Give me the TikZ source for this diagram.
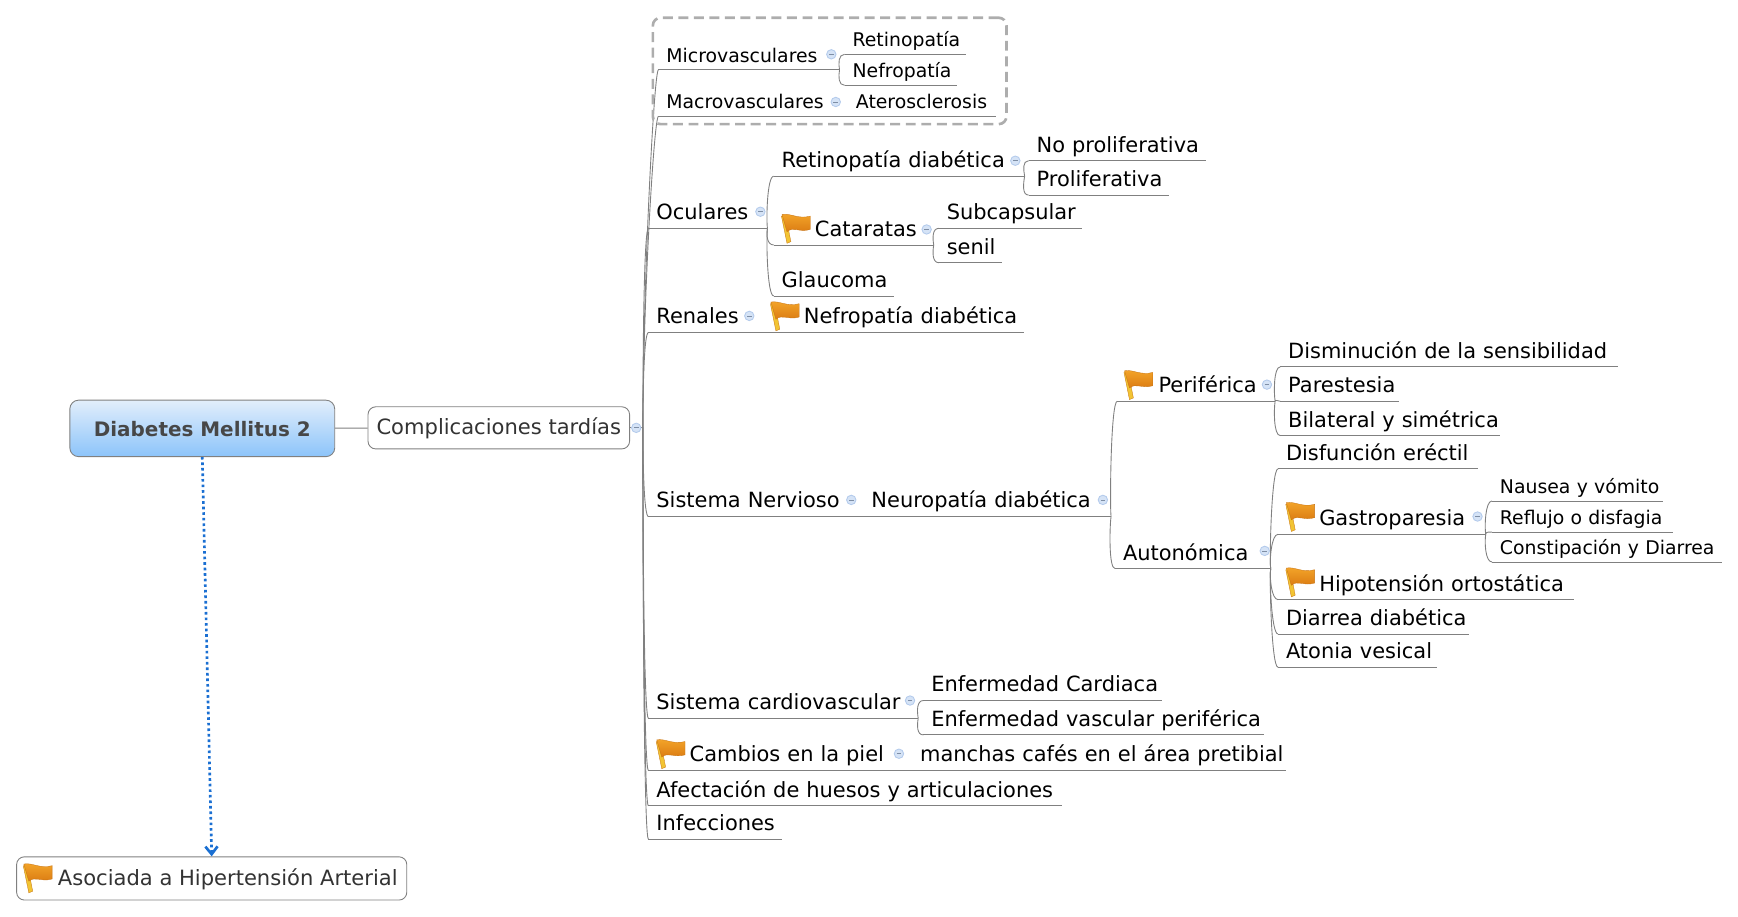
\documentclass[tikz,border=0pt]{standalone}
\usepackage{fontspec}
\setmainfont{DejaVu Sans}
\usetikzlibrary{arrows.meta}
\definecolor{linegray}{HTML}{808080}
\definecolor{flagtop}{HTML}{F4A62A}
\definecolor{flagbottom}{HTML}{DA7A12}
\definecolor{flagdark}{HTML}{C87414}
\definecolor{flagpole}{HTML}{F2C433}
\definecolor{linkblue}{HTML}{1A6FD2}
\definecolor{rootlight}{HTML}{E2EEFB}
\definecolor{rootdark}{HTML}{8CC4FA}
\definecolor{foldfill}{HTML}{D5E3F6}
\definecolor{folddraw}{HTML}{B4CBEC}
\tikzset{
    branch/.style={draw=linegray,line width=0.8pt},
    topic/.style={anchor=south west,inner xsep=7pt,inner ysep=0pt,align=left,text height=14pt,text depth=7.5pt,font=\fontsize{18.9}{21}\selectfont,text=black,
        execute at begin node={\hbox\bgroup},execute at end node={\egroup},
        append after command={(\tikzlastnode.south west) edge[branch] (\tikzlastnode.south east)}},
    midtopic/.style={topic,font=\fontsize{17}{20}\selectfont,text depth=6.5pt},
    fanup/.style={out=100,in=180,in max distance=6pt,out max distance=7pt},
    fandown/.style={out=-100,in=180,in max distance=6pt,out max distance=7pt},
    trunkup/.style={out=90,in=180,in max distance=4pt},
    trunkdown/.style={out=-90,in=180,in max distance=4pt},
    boxed/.style={draw=linegray,line width=0.8pt,rounded corners=7pt,fill=white,text=black!80,font=\fontsize{19}{21}\selectfont,inner sep=0pt,text height=15pt,text depth=2.5pt},
    fold/.style={circle,draw=folddraw,line width=0.8pt,fill=foldfill,minimum size=8.5pt,inner sep=0pt,
        path picture={\draw[folddraw!70!black,line width=0.7pt] (path picture bounding box.west) ++(2.2pt,0) -- ++(4.1pt,0);}},
    flagicon/.pic={
        \fill[flagpole,draw=flagdark,line width=0.3pt] (-13,-11) -- (-9,-11) -- (-4.5,12) -- (-8,13.5) -- cycle;
        \shade[top color=flagtop,bottom color=flagbottom,draw=flagdark,line width=0.3pt] (-12.5,-12.5) .. controls (-5,-14) and (2,-8) .. (13,-11) -- (13,1) .. controls (3,4) and (-2,-2) .. (-8,3) -- cycle;
    }
}
\begin{document}
\begin{tikzpicture}[x=1pt,y=-1pt]
    \useasboundingbox (0,0) rectangle (1568,827);
    % central part
    \node[boxed,rounded corners=8pt,minimum width=239pt,minimum height=51pt,top color=rootlight,bottom color=rootdark,font=\fontsize{18}{20}\selectfont\bfseries,text=black!72,text height=14pt,text depth=0pt] (root) at (182.5,386.5) {Diabetes Mellitus 2};
    \node[boxed,minimum width=236pt,minimum height=38pt] (tardias) at (450,386) {Complicaciones tardías};
    \node[boxed,minimum width=352pt,minimum height=39pt,align=left] (asociada) at (191,792.5) {\hspace*{29pt}Asociada a Hipertensión Arterial};
    \coordinate (trunk) at (580,386);
    \draw[branch] (root) -- (tardias);
    \draw[branch] (tardias) -- (trunk);
    \draw[{Straight Barb[length=7pt,width=11pt,line width=2.4pt]}-,draw=linkblue,line width=2.4pt,dash pattern=on 2.4pt off 2.6pt] (asociada.north) -- (root.south);

    % first level
    \node[midtopic,text width=149pt] (micro) at (594,63) {Microvasculares};
    \node[midtopic,text width=157pt] (macro) at (594,105) {Macrovasculares};
    \node[topic,text width=93pt] (ocular) at (585,206) {Oculares};
    \node[topic,text width=89pt] (renal) at (585,300) {Renales};
    \node[topic,text width=180pt] (nervio) at (585,466) {Sistema Nervioso};
    \node[topic,text width=229pt] (cardio) at (585,648) {Sistema cardiovascular};
    \node[topic,text width=224pt] (piel) at (585,695) {\hspace*{30pt}Cambios en la piel};
    \node[topic,text width=359pt] (hueso) at (585,727) {Afectación de huesos y articulaciones};
    \node[topic,text width=106pt] (infec) at (585,757) {Infecciones};
    \foreach \n in {micro,macro,ocular,renal}
        \draw[branch] (trunk) to[trunkup] (\n.south west);
    \foreach \n in {nervio,cardio,piel,hueso,infec}
        \draw[branch] (trunk) to[trunkdown] (\n.south west);

    % vasculares
    \node[midtopic,text width=95pt] (retina) at (762,49) {Retinopatía};
    \node[midtopic,text width=87pt] (nefro) at (762,77) {Nefropatía};
    \node[midtopic,text width=119pt] (atero) at (765,105) {Aterosclerosis};
    \draw[branch] (micro.south east) to[fanup] (retina.south west);
    \draw[branch] (micro.south east) to[fandown] (nefro.south west);
    \draw[branch] (macro.south east) -- (atero.south west);
    \node[draw=black!32,line width=2.4pt,dash pattern=on 9pt off 5pt,rounded corners=7pt,minimum width=319pt,minimum height=96pt] (vascular) at (748.5,64) {};

    % ojos
    \node[topic,text width=212pt] (retdiab) at (698,159) {Retinopatía diabética};
    \node[topic,text width=130pt] (catar) at (698,221) {\hspace*{30pt}Cataratas};
    \node[topic,text width=94pt] (glauc) at (698,267) {Glaucoma};
    \node[topic,text width=146pt] (noprol) at (928,145) {No proliferativa};
    \node[topic,text width=112pt] (prolif) at (928,176) {Proliferativa};
    \node[topic,text width=115pt] (subcap) at (847,206) {Subcapsular};
    \node[topic,text width=43pt] (senil) at (847,237) {senil};
    \draw[branch] (ocular.south east) to[fanup] (retdiab.south west);
    \draw[branch] (ocular.south east) to[fandown] (catar.south west);
    \draw[branch] (ocular.south east) to[fandown] (glauc.south west);
    \draw[branch] (retdiab.south east) to[fanup] (noprol.south west);
    \draw[branch] (retdiab.south east) to[fandown] (prolif.south west);
    \draw[branch] (catar.south east) to[fanup] (subcap.south west);
    \draw[branch] (catar.south east) to[fandown] (senil.south west);

    % rinon
    \node[topic,text width=221pt] (nefdiab) at (688,300) {\hspace*{30pt}Nefropatía diabética};
    \draw[branch] (renal.south east) -- (nefdiab.south west);

    % nervios
    \node[topic,text width=209pt] (neuro) at (779,466) {Neuropatía diabética};
    \node[topic,text width=128pt] (perif) at (1008,362) {\hspace*{30pt}Periférica};
    \node[topic,text width=126pt] (auto) at (1006,513) {Autonómica};
    \node[topic,text width=290pt] (sensib) at (1155,331) {Disminución de la sensibilidad};
    \node[topic,text width=93pt] (pares) at (1155,362) {Parestesia};
    \node[topic,text width=184pt] (bilat) at (1155,393) {Bilateral y simétrica};
    \node[topic,text width=166pt] (erect) at (1153,423) {Disfunción eréctil};
    \node[topic,text width=173pt] (gastro) at (1153,482) {\hspace*{30pt}Gastroparesia};
    \node[topic,text width=253pt] (hipo) at (1153,541) {\hspace*{30pt}Hipotensión ortostática};
    \node[topic,text width=158pt] (diarrea) at (1153,572) {Diarrea diabética};
    \node[topic,text width=129pt] (atonia) at (1153,602) {Atonia vesical};
    \node[midtopic,text width=140pt] (nausea) at (1346,452) {Nausea y vómito};
    \node[midtopic,text width=149pt] (reflujo) at (1346,480) {Reflujo o disfagia};
    \node[midtopic,text width=193pt] (constip) at (1346,507) {Constipación y Diarrea};
    \draw[branch] (nervio.south east) -- (neuro.south west);
    \draw[branch] (neuro.south east) to[fanup] (perif.south west);
    \draw[branch] (neuro.south east) to[fandown] (auto.south west);
    \foreach \n in {sensib,pares}
        \draw[branch] (perif.south east) to[fanup] (\n.south west);
    \draw[branch] (perif.south east) to[fandown] (bilat.south west);
    \foreach \n in {erect,gastro}
        \draw[branch] (auto.south east) to[fanup] (\n.south west);
    \foreach \n in {hipo,diarrea,atonia}
        \draw[branch] (auto.south east) to[fandown] (\n.south west);
    \foreach \n in {nausea,reflujo}
        \draw[branch] (gastro.south east) to[fanup] (\n.south west);
    \draw[branch] (gastro.south east) to[fandown] (constip.south west);

    % cardio y piel
    \node[topic,text width=201pt] (cardiaca) at (833,632) {Enfermedad Cardiaca};
    \node[topic,text width=293pt] (vascper) at (833,663) {Enfermedad vascular periférica};
    \node[topic,text width=323pt] (manchas) at (823,695) {manchas cafés en el área pretibial};
    \draw[branch] (cardio.south east) to[fanup] (cardiaca.south west);
    \draw[branch] (cardio.south east) to[fandown] (vascper.south west);
    \draw[branch] (piel.south east) -- (manchas.south west);

    % banderas
    \foreach \x/\y in {718/206,708/285,1027/347,1173/466,1173/525,605/680,34/792}
        \pic at (\x,\y) {flagicon};

    % botones
    \foreach \x/\y [count=\i] in {574/386,750/49,754/92,686/191,916/145,836/207,676/285,768/451,995/451,1143/347,1141/497,1333/466,821/632,811/680}
        \node[fold] (fold\i) at (\x,\y) {};
\end{tikzpicture}
\end{document}
